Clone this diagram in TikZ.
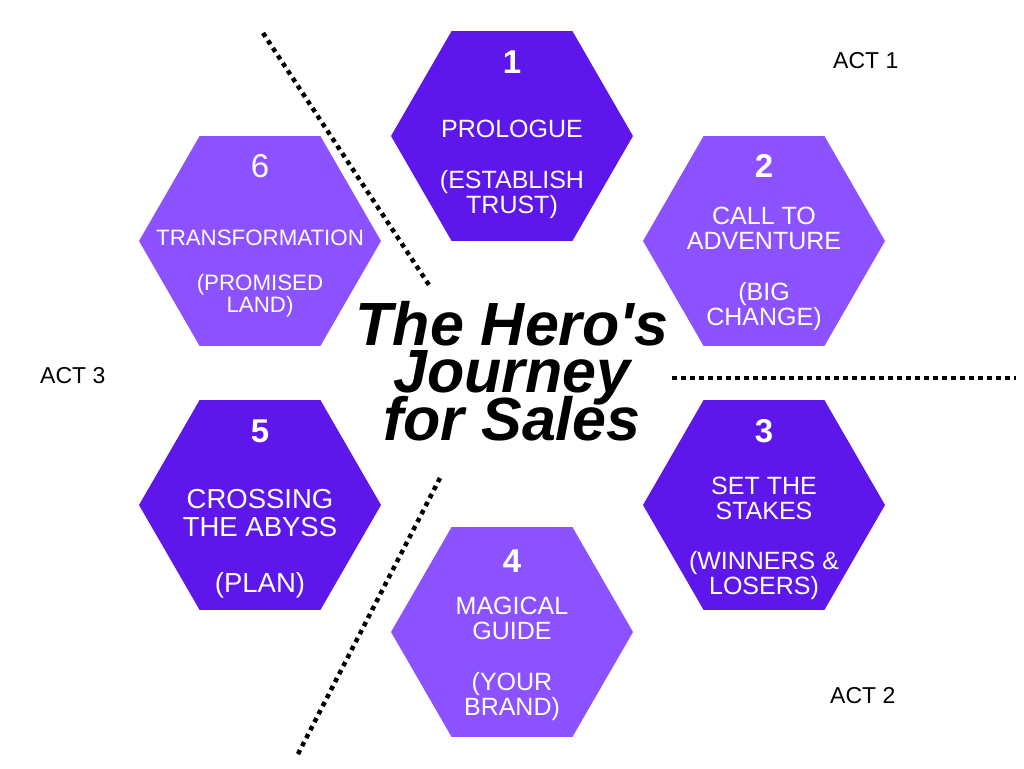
\documentclass[tikz,border=0pt]{standalone}
\usepackage{fontspec}
\setmainfont{Liberation Sans}
\usetikzlibrary{shapes.geometric}
\definecolor{hexdark}{HTML}{5E17EB}
\definecolor{hexlight}{HTML}{8C52FF}
\newcommand\fsz[2]{\fontsize{#1}{#2}\selectfont\lineskiplimit=-100pt\relax}
\begin{document}
\begin{tikzpicture}[x=1pt,y=-1pt,
  hex/.style={regular polygon, regular polygon sides=6, minimum size=242pt, inner sep=0pt, outer sep=0pt, draw=none},
  darkhex/.style={hex, fill=hexdark},
  lighthex/.style={hex, fill=hexlight},
  num/.style={text=white, anchor=base, inner sep=0pt, font=\bfseries\fsz{33}{33}},
  body/.style={text=white, anchor=north, inner sep=0pt, align=center},
  act/.style={anchor=base west, inner sep=0pt, font=\fsz{23}{23}},
  dotline/.style={line width=4.5pt, dash pattern=on 4.5pt off 4.5pt}]
\useasboundingbox (0,0) rectangle (1024,768);

% hexagons
\node[darkhex]  (h1) at (512,136) {};
\node[lighthex] (h2) at (764,241) {};
\node[darkhex]  (h3) at (764,505) {};
\node[lighthex] (h4) at (512,632) {};
\node[darkhex]  (h5) at (260,505) {};
\node[lighthex] (h6) at (260,241) {};

% numbers
\node[num] (n1) at (512,73) {1};
\node[num] (n2) at (764,177) {2};
\node[num] (n3) at (764,442) {3};
\node[num] (n4) at (512,572) {4};
\node[num] (n5) at (260,442) {5};
\node[num, font=\fsz{33}{33}] (n6) at (260,177) {6};

% body texts (first baseline = y + 20)
\node[body, font=\fsz{25}{25.5}] (t1) at (512,117) {\rule{0pt}{20pt}PROLOGUE\\[25.5pt](ESTABLISH\\TRUST)};
\node[body, font=\fsz{25}{25}] (t2) at (764,204) {\rule{0pt}{20pt}CALL TO\\ADVENTURE\\[26pt](BIG\\CHANGE)};
\node[body, font=\fsz{25}{25}] (t3) at (764,474) {\rule{0pt}{20pt}SET THE\\STAKES\\[25pt](WINNERS \&\\LOSERS)};
\node[body, font=\fsz{25}{25}] (t4) at (512,594) {\rule{0pt}{20pt}MAGICAL\\GUIDE\\[26pt](YOUR\\BRAND)};
\node[body, font=\fsz{27.5}{28}] (t5) at (260,488) {\rule{0pt}{20pt}CROSSING\\THE ABYSS\\[28pt](PLAN)};
\node[body, font=\fsz{22.3}{22.5}] (t6) at (260,225) {\rule{0pt}{20pt}TRANSFORMATION\\[22.5pt](PROMISED\\LAND)};

% title (first baseline = 345)
\node[anchor=north, inner sep=0pt, align=center, font=\bfseries\itshape\fsz{61}{47.5}] (title) at (512,295)
  {\rule{0pt}{50pt}The Hero\textquotesingle s\\Journey\\for Sales};

% act labels
\node[act] (a1) at (833,68) {ACT 1};
\node[act] (a3) at (40,383) {ACT 3};
\node[act] (a2) at (830,703) {ACT 2};

% dotted dividers
\coordinate (d1a) at (263,33);
\coordinate (d1b) at (429,285);
\coordinate (d2a) at (440,478);
\coordinate (d2b) at (297,756);
\coordinate (d3a) at (672,378);
\coordinate (d3b) at (1016,378);
\draw[dotline] (d1a) -- (d1b);
\draw[dotline] (d2a) -- (d2b);
\draw[dotline] (d3a) -- (d3b);
\end{tikzpicture}
\end{document}
